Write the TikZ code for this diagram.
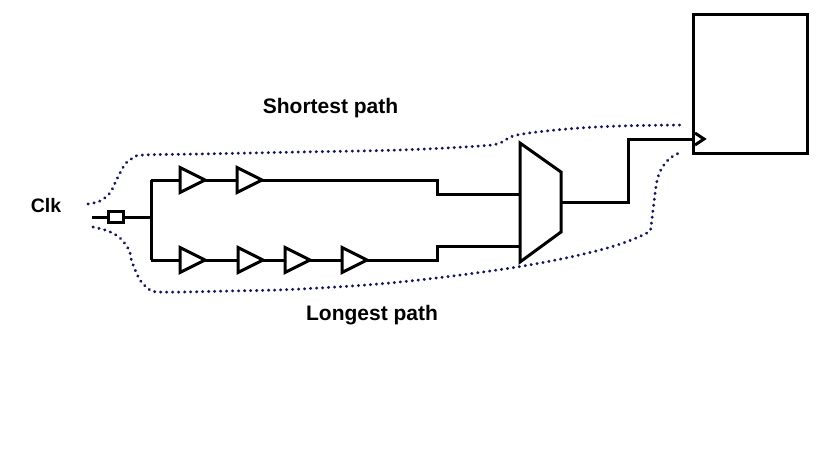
\documentclass[tikz,border=0pt]{standalone}
\usepackage{fontspec}
\setmainfont{Liberation Sans}
\usetikzlibrary{shapes.geometric}
\definecolor{pathblue}{RGB}{20,20,100}
\tikzset{
  x=1pt,y=-1pt,
  wire/.style={draw=black,line width=3pt,line join=miter},
  buf/.style={shape=isosceles triangle,isosceles triangle stretches,shape border rotate=0,draw=black,line width=3pt,fill=white,minimum width=25pt,minimum height=25pt,inner sep=0pt,outer sep=0pt,anchor=west},
  lab/.style={font=\bfseries\fontsize{21}{24}\selectfont,text=black,inner sep=0pt},
  dots/.style={draw=pathblue,line width=3pt,line cap=round,dash pattern=on 0.3pt off 5.7pt},
}
\begin{document}
\begin{tikzpicture}
\useasboundingbox (0,0) rectangle (830,453);
\fill[white] (0,0) rectangle (830,453);
% labels
\node[lab] (short) at (330.5,108) {Shortest path};
\node[lab] (long) at (372,315) {Longest path};
\node[lab,font=\bfseries\fontsize{19.5}{22}\selectfont] (clk) at (46,206) {Clk};
% register
\node[draw=black,line width=3pt,minimum width=114pt,minimum height=139pt,inner sep=0pt,outer sep=0pt] (reg) at (750,84) {};
\coordinate (cka) at (695,133);
\coordinate (ckb) at (704,139);
\coordinate (ckc) at (695,145);
\coordinate (ckw) at (695,139);
\draw[wire] (cka) -- (ckb) -- (ckc);
% clock gate
\coordinate (clkin) at (92,217);
\node[draw=black,line width=3pt,minimum width=15pt,minimum height=11pt,inner sep=0pt,outer sep=0pt] (gate) at (115.5,217) {};
\coordinate (branch) at (151,217);
\coordinate (topt) at (151,180);
\coordinate (bott) at (151,260);
% buffers
\node[buf] (a1) at (180,180) {};
\node[buf] (a2) at (237,180) {};
\node[buf] (b1) at (180,260) {};
\node[buf] (b2) at (238,260) {};
\node[buf] (b3) at (285,260) {};
\node[buf] (b4) at (342,260) {};
% mux
\coordinate (m1) at (520,143);
\coordinate (m2) at (561,172);
\coordinate (m3) at (561,232);
\coordinate (m4) at (520,262);
\draw[wire] (m1) -- (m2) -- (m3) -- (m4) -- cycle;
\coordinate (ma) at (520,194);
\coordinate (mb) at (520,246);
\coordinate (mo) at (561,202);
% wires
\draw[wire] (clkin) -- (gate.west);
\draw[wire] (gate.east) -- (branch);
\draw[wire] (topt) -- (bott);
\draw[wire] (topt) -- (a1.west);
\draw[wire] (bott) -- (b1.west);
\draw[wire] (a1.apex) -- (a2.west);
\draw[wire] (b1.apex) -- (b2.west);
\draw[wire] (b2.apex) -- (b3.west);
\draw[wire] (b3.apex) -- (b4.west);
\draw[wire] (a2.apex) -- (437,180) -- (437,194) -- (ma);
\draw[wire] (b4.apex) -- (437,260) -- (437,246) -- (mb);
\draw[wire] (mo) -- (628,202) -- (628,139) -- (ckw);
% dotted paths
\draw[dots] plot[smooth,tension=0.6] coordinates {(88,204) (100,201) (110,193) (115,183) (120,173) (126,163) (133,158) (143,155) (200,154) (300,152) (400,150) (480,146) (500,143) (517,135) (567,129) (620,126) (680,125)};
\draw[dots] plot[smooth,tension=0.6] coordinates {(93,227) (108,231) (120,238) (129,250) (132,262) (140,280) (148,288) (160,292) (230,291) (300,289) (400,282) (517,267) (600,250) (645,234) (651,225) (653,210) (658,177) (668,160) (681,152)};
\end{tikzpicture}
\end{document}
